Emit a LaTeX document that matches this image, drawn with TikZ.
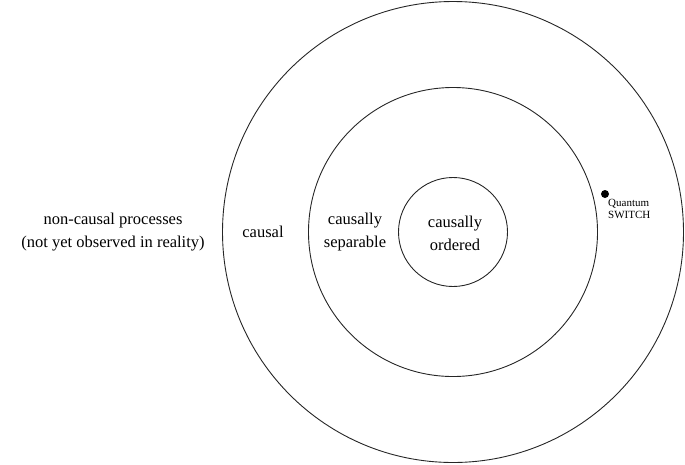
\documentclass[tikz,border=0pt]{standalone}
\usepackage{fontspec}
\setmainfont{Liberation Serif}
\begin{document}
\begin{tikzpicture}[x=1pt,y=-1pt,
  ring/.style={draw=black!85,line width=0.9pt},
  lbl/.style={font=\fontsize{16.5}{23}\selectfont,align=center,inner sep=0pt},
  small/.style={font=\fontsize{11}{12}\selectfont,align=left,inner sep=0pt}]
\useasboundingbox (0,0) rectangle (685,464);
\coordinate (c) at (453,232);
\draw[ring] (c) circle[radius=230.5];
\draw[ring] (c) circle[radius=144.5];
\draw[ring] (c) circle[radius=54.5];
\node[lbl] (noncausal) at (113,232) {non-causal processes\\(not yet observed in reality)};
\node[lbl] (causal) at (263,232) {causal};
\node[lbl] (sep) at (355,232) {causally\\separable};
\node[lbl] (ord) at (455,233) {causally\\ordered};
\fill (605,194) circle[radius=4] coordinate (dot);
\node[small,anchor=north west] (qs) at (608,199) {Quantum\\SWITCH};
\end{tikzpicture}
\end{document}
